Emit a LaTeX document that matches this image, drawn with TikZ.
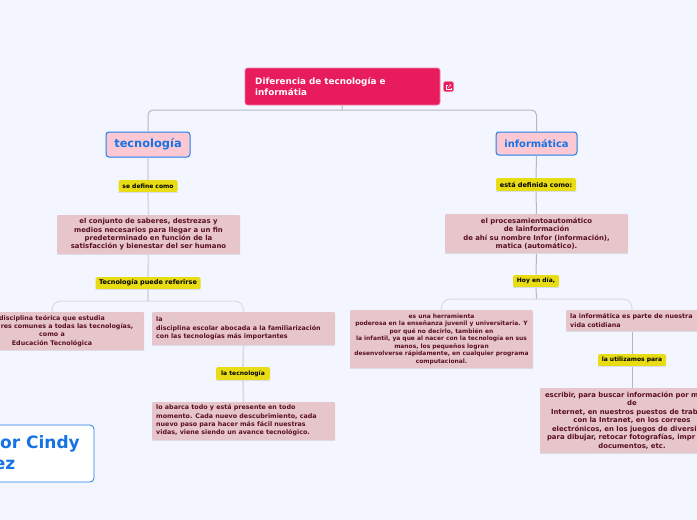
\documentclass[tikz,border=0pt]{standalone}
\usepackage{fontspec}
\setmainfont{DejaVu Sans}
\definecolor{bgc}{HTML}{F3F6FE}
\definecolor{rootc}{HTML}{E81B5D}
\definecolor{rootb}{HTML}{F07FA3}
\definecolor{mainf}{HTML}{FBC8D4}
\definecolor{blueb}{HTML}{1F7FEA}
\definecolor{bluet}{HTML}{1573E6}
\definecolor{yel}{HTML}{E8DC14}
\definecolor{rosef}{HTML}{E6C6CB}
\definecolor{rost}{HTML}{5A0F23}
\definecolor{cgray}{HTML}{B4B7BE}
\definecolor{clight}{HTML}{D8DBE6}
\definecolor{shad}{HTML}{DADDE8}
\newcommand{\padline}[2]{\makebox[#1pt][l]{#2}}
\tikzset{
 rootbox/.style={fill=rootc,draw=rootb,line width=.6pt,rounded corners=2.5pt,inner sep=0pt,minimum width=195pt,minimum height=37pt},
 mainbox/.style={fill=mainf,draw=blueb,line width=1pt,rounded corners=3pt,inner sep=0pt,text=bluet,font=\bfseries\fontsize{11.4}{13}\selectfont},
 labelbox/.style={fill=yel,rounded corners=1.5pt,inner sep=0pt,text=black,font=\bfseries\fontsize{6}{8}\selectfont},
 textbox/.style={fill=rosef,rounded corners=1pt,inner sep=0pt},
 boxtext/.style={inner sep=0pt,text=rost,font=\bfseries\fontsize{6.35}{8.25}\selectfont},
 boxtextb/.style={inner sep=0pt,text=rost,font=\bfseries\fontsize{6.9}{8.4}\selectfont},
 authorbox/.style={fill=white,draw=blueb,line width=.8pt,rounded corners=4pt,inner sep=0pt},
 authortext/.style={inner sep=0pt,text=bluet,font=\bfseries\fontsize{17}{22}\selectfont},
 conn/.style={draw=cgray,line width=1pt},
 connl/.style={draw=clight,line width=1.6pt},
 connb/.style={draw=clight,line width=1pt},
 conni/.style={draw=cgray,line width=1pt},
 shadowline/.style={draw=shad,line width=1pt},
}
\begin{document}
\begin{tikzpicture}[x=1pt,y=-1pt]
\useasboundingbox (0,0) rectangle (697,520);
\clip (0,0) rectangle (697,520);
\fill[bgc] (0,0) rectangle (697,520);
% junction points
\coordinate (jroot) at (342,110);
\coordinate (jt) at (148,301);
\coordinate (ji) at (536.5,299);
% boxes
\node[rootbox] (root) at (342.5,86.5) {};
\node[anchor=west,inner sep=0pt,align=left,text=white,font=\bfseries\fontsize{8.8}{11}\selectfont] (roottext) at (255,86.5) {Diferencia de tecnología e\\informátia};
\node[fill=rootc,draw=rootb,line width=.5pt,rounded corners=1.5pt,minimum size=10pt,inner sep=0pt] (icon) at (448.5,86.5) {};
\node[mainbox,minimum width=84pt,minimum height=25pt] (tec) at (148,144.5) {tecnología};
\node[mainbox,minimum width=81pt,minimum height=23pt,font=\bfseries\fontsize{9.9}{12}\selectfont] (inf) at (536.5,143.5) {informática};
% left branch boxes
\node[labelbox,minimum width=59pt,minimum height=12pt] (l1) at (148,186) {se define como};
\node[textbox,minimum width=183pt,minimum height=39pt] (t1) at (148.5,234.5) {};
\node[labelbox,minimum width=105pt,minimum height=12pt,font=\bfseries\fontsize{6.5}{8}\selectfont] (l2) at (148,283) {Tecnología puede referirse};
\node[textbox,minimum width=184pt,minimum height=38pt] (t2) at (52,331) {};
\node[textbox,minimum width=183pt,minimum height=33pt] (t3) at (243.5,328.5) {};
\node[labelbox,minimum width=54pt,minimum height=13pt] (l3) at (243,373.5) {la tecnología};
\node[textbox,minimum width=183pt,minimum height=38pt] (t4) at (243.5,421) {};
% right branch boxes
\node[labelbox,minimum width=80pt,minimum height=13pt,font=\bfseries\fontsize{6.5}{8}\selectfont] (l4) at (536,184.5) {está definida como:};
\node[textbox,minimum width=183pt,minimum height=39pt] (t5) at (536.5,233.5) {};
\node[labelbox,minimum width=46pt,minimum height=12pt] (l5) at (536,281) {Hoy en día,};
\node[textbox,minimum width=183pt,minimum height=58pt] (t6) at (441.5,339) {};
\node[textbox,minimum width=132pt,minimum height=21pt] (t7) at (632,320.5) {};
\node[labelbox,minimum width=68pt,minimum height=12pt] (l6) at (632,360) {la utilizamos para};
\node[textbox,minimum width=184pt,minimum height=65pt] (t8) at (632,420.5) {};
\node[authorbox,minimum width=144pt,minimum height=57pt] (auth) at (22,453.5) {};
% connectors
\draw[conn] (root.south) -- (jroot);
\draw[conn,rounded corners=5pt] (tec.north) -- (tec.north |- jroot) -- (inf.north |- jroot) -- (inf.north);
\draw[connl] (tec.south) -- (l1.north);
\draw[connl] (l1.south) -- (t1.north);
\draw[connl] (t1.south) -- (l2.north);
\draw[connl] (l2.south) -- (jt);
\draw[connb,rounded corners=9pt] (t2.north) -- (t2.north |- jt) -- (t3.north |- jt) -- (t3.north);
\draw[connl] (t3.south) -- (l3.north);
\draw[connl] (l3.south) -- (t4.north);
\draw[conni] (inf.south) -- (l4.north);
\draw[conni] (l4.south) -- (t5.north);
\draw[conni] (t5.south) -- (l5.north);
\draw[conni] (l5.south) -- (ji);
\draw[connb,rounded corners=9pt] (t6.north) -- (t6.north |- ji) -- (t7.north |- ji) -- (t7.north);
\draw[conni] (t7.south) -- (l6.north);
\draw[conni] (l6.south) -- (t8.north);
\foreach \n in {l1,t1,l2,t2,t3,l3,t4,l4,t5,l5,t6,t7,l6,t8}
  \draw[shadowline] ([yshift=-.5pt]\n.south west) -- ([yshift=-.5pt]\n.south east);
% icon glyph
\draw[white,line width=.4pt] (446.5,85) -- (446.5,89.5) -- (451,89.5) -- (451,87.5) (448,85) -- (446.5,85);
\draw[white,line width=.4pt] (448,88) -- (451,84.5) (449.3,84.5) -- (451,84.5) -- (451,86);
% texts
\node[boxtextb,align=center] (x1) at (t1.center) {el conjunto de saberes, destrezas y\\medios necesarios para llegar a un fin\\predeterminado en función de la\\satisfacción y bienestar del ser humano};
\node[boxtext,align=center] (x2) at (t2.center) {disciplina teórica que estudia\\\hspace*{30pt}res comunes a todas las tecnologías,\\como a\\Educación Tecnológica};
\node[boxtext,align=left,anchor=west] (x3) at (156,328.5) {la\\disciplina escolar abocada a la familiarización\\con las tecnologías más importantes};
\node[boxtext,align=left,anchor=west] (x4) at (156,420.5) {lo abarca todo y está presente en todo\\momento. Cada nuevo descubrimiento, cada\\nuevo paso para hacer más fácil nuestras\\vidas, viene siendo un avance tecnológico.};
\node[boxtextb,align=center] (x5) at (t5.center) {el procesamientoautomático\\de lainformación\\de ahí su nombre Infor (información),\\matica (automático).};
\node[boxtext,align=center,font=\bfseries\fontsize{5.95}{7.5}\selectfont] (x6) at (t6.center) {es una herramienta\\poderosa en la enseñanza juvenil y universitaria. Y\\por qué no decirlo, también en\\la infantil, ya que al nacer con la tecnología en sus\\manos, los pequeños logran\\desenvolverse rápidamente, en cualquier programa\\computacional.};
\node[boxtext,align=left,anchor=west] (x7) at (570,320.5) {la informática es parte de nuestra\\vida cotidiana};
\node[boxtext,align=center,font=\bfseries\fontsize{6.9}{8.5}\selectfont] (x8) at (t8.center) {\padline{174}{escribir, para buscar información por m}\\de\\\padline{162}{Internet, en nuestros puestos de trab}\\con la Intranet, en los correos\\\padline{160}{electrónicos, en los juegos de diversi}\\\padline{170}{para dibujar, retocar fotografías, impr}\\documentos, etc.};
\node[authortext,anchor=east] (a1) at (80,443.5) {or Cindy};
\node[authortext,anchor=east] (a2) at (15.5,465) {ez};
\end{tikzpicture}
\end{document}
